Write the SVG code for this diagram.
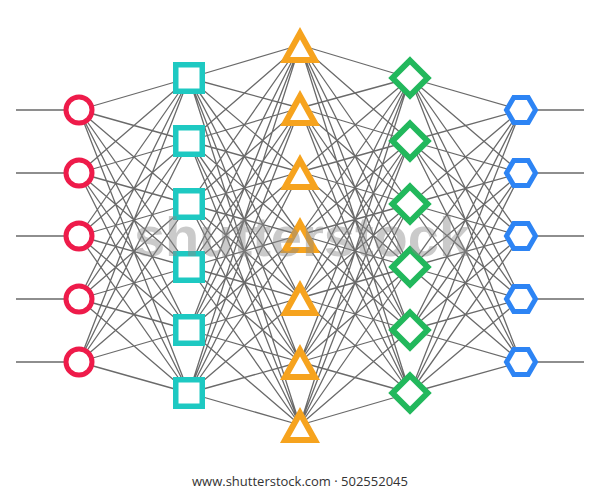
<svg xmlns="http://www.w3.org/2000/svg" xmlns:xlink="http://www.w3.org/1999/xlink" width="600" height="493" viewBox="0 0 600 493">
<style>
.ln{fill:none;stroke:#6a6a6a;stroke-width:1.3}
.cir{fill:#fff;stroke:#ee1b4a;stroke-width:5}
.sq{fill:#fff;stroke:#1ec9c2;stroke-width:5.5}
.tri{fill:#fff;stroke:#f6a31e;stroke-width:6;stroke-linejoin:miter}
.dia{fill:#fff;stroke:#22b85c;stroke-width:6}
.hex{fill:#fff;stroke:#2d84f4;stroke-width:5}
.wm{font-family:"Liberation Sans",Arial,sans-serif;font-weight:bold;font-size:56px;fill:#8a8a8a;fill-opacity:0.45}
.ft{font-family:"Open Sans","Liberation Sans",sans-serif;font-size:13px;fill:#333}
</style>
<defs>
<circle id="c" r="13"/>
<rect id="s" x="-13.25" y="-13.25" width="26.5" height="26.5"/>
<path id="t" d="M0 -11.8L14.9 15L-14.9 15Z"/>
<path id="d" d="M0 -17.5L17.5 0L0 17.5L-17.5 0Z"/>
<path id="h" d="M14.5 0L7.25 12.56L-7.25 12.56L-14.5 0L-7.25 -12.56L7.25 -12.56Z"/>
</defs>
<rect width="600" height="493" fill="#fff"/>
<g id="connectors" class="ln">
<path d="M16 110H66M16 173H66M16 236H66M16 299H66M16 362H66"/>
<path d="M535 110H584M535 173H584M535 236H584M535 299H584M535 362H584"/>
<path d="M79 110L189 78M79 110L189 141M79 110L189 204M79 110L189 267M79 110L189 330M79 110L189 393M79 173L189 78M79 173L189 141M79 173L189 204M79 173L189 267M79 173L189 330M79 173L189 393M79 236L189 78M79 236L189 141M79 236L189 204M79 236L189 267M79 236L189 330M79 236L189 393M79 299L189 78M79 299L189 141M79 299L189 204M79 299L189 267M79 299L189 330M79 299L189 393M79 362L189 78M79 362L189 141M79 362L189 204M79 362L189 267M79 362L189 330M79 362L189 393"/>
<path d="M189 78L300 45M189 78L300 108M189 78L300 172M189 78L300 235M189 78L300 298M189 78L300 362M189 78L300 425M189 141L300 45M189 141L300 108M189 141L300 172M189 141L300 235M189 141L300 298M189 141L300 362M189 141L300 425M189 204L300 45M189 204L300 108M189 204L300 172M189 204L300 235M189 204L300 298M189 204L300 362M189 204L300 425M189 267L300 45M189 267L300 108M189 267L300 172M189 267L300 235M189 267L300 298M189 267L300 362M189 267L300 425M189 330L300 45M189 330L300 108M189 330L300 172M189 330L300 235M189 330L300 298M189 330L300 362M189 330L300 425M189 393L300 45M189 393L300 108M189 393L300 172M189 393L300 235M189 393L300 298M189 393L300 362M189 393L300 425"/>
<path d="M300 45L410 78M300 45L410 141M300 45L410 204M300 45L410 267M300 45L410 330M300 45L410 393M300 108L410 78M300 108L410 141M300 108L410 204M300 108L410 267M300 108L410 330M300 108L410 393M300 172L410 78M300 172L410 141M300 172L410 204M300 172L410 267M300 172L410 330M300 172L410 393M300 235L410 78M300 235L410 141M300 235L410 204M300 235L410 267M300 235L410 330M300 235L410 393M300 298L410 78M300 298L410 141M300 298L410 204M300 298L410 267M300 298L410 330M300 298L410 393M300 362L410 78M300 362L410 141M300 362L410 204M300 362L410 267M300 362L410 330M300 362L410 393M300 425L410 78M300 425L410 141M300 425L410 204M300 425L410 267M300 425L410 330M300 425L410 393"/>
<path d="M410 78L521 110M410 78L521 173M410 78L521 236M410 78L521 299M410 78L521 362M410 141L521 110M410 141L521 173M410 141L521 236M410 141L521 299M410 141L521 362M410 204L521 110M410 204L521 173M410 204L521 236M410 204L521 299M410 204L521 362M410 267L521 110M410 267L521 173M410 267L521 236M410 267L521 299M410 267L521 362M410 330L521 110M410 330L521 173M410 330L521 236M410 330L521 299M410 330L521 362M410 393L521 110M410 393L521 173M410 393L521 236M410 393L521 299M410 393L521 362"/>
</g>
<g id="c1" transform="translate(79,110)"><use xlink:href="#c" class="cir"/></g>
<g id="c2" transform="translate(79,173)"><use xlink:href="#c" class="cir"/></g>
<g id="c3" transform="translate(79,236)"><use xlink:href="#c" class="cir"/></g>
<g id="c4" transform="translate(79,299)"><use xlink:href="#c" class="cir"/></g>
<g id="c5" transform="translate(79,362)"><use xlink:href="#c" class="cir"/></g>
<g id="s1" transform="translate(189,78)"><use xlink:href="#s" class="sq"/></g>
<g id="s2" transform="translate(189,141)"><use xlink:href="#s" class="sq"/></g>
<g id="s3" transform="translate(189,204)"><use xlink:href="#s" class="sq"/></g>
<g id="s4" transform="translate(189,267)"><use xlink:href="#s" class="sq"/></g>
<g id="s5" transform="translate(189,330)"><use xlink:href="#s" class="sq"/></g>
<g id="s6" transform="translate(189,393)"><use xlink:href="#s" class="sq"/></g>
<g id="t1" transform="translate(300,45)"><use xlink:href="#t" class="tri"/></g>
<g id="t2" transform="translate(300,108)"><use xlink:href="#t" class="tri"/></g>
<g id="t3" transform="translate(300,172)"><use xlink:href="#t" class="tri"/></g>
<g id="t4" transform="translate(300,235)"><use xlink:href="#t" class="tri"/></g>
<g id="t5" transform="translate(300,298)"><use xlink:href="#t" class="tri"/></g>
<g id="t6" transform="translate(300,362)"><use xlink:href="#t" class="tri"/></g>
<g id="t7" transform="translate(300,425)"><use xlink:href="#t" class="tri"/></g>
<g id="d1" transform="translate(410,78)"><use xlink:href="#d" class="dia"/></g>
<g id="d2" transform="translate(410,141)"><use xlink:href="#d" class="dia"/></g>
<g id="d3" transform="translate(410,204)"><use xlink:href="#d" class="dia"/></g>
<g id="d4" transform="translate(410,267)"><use xlink:href="#d" class="dia"/></g>
<g id="d5" transform="translate(410,330)"><use xlink:href="#d" class="dia"/></g>
<g id="d6" transform="translate(410,393)"><use xlink:href="#d" class="dia"/></g>
<g id="h1" transform="translate(521,110)"><use xlink:href="#h" class="hex"/></g>
<g id="h2" transform="translate(521,173)"><use xlink:href="#h" class="hex"/></g>
<g id="h3" transform="translate(521,236)"><use xlink:href="#h" class="hex"/></g>
<g id="h4" transform="translate(521,299)"><use xlink:href="#h" class="hex"/></g>
<g id="h5" transform="translate(521,362)"><use xlink:href="#h" class="hex"/></g>
<text class="wm" x="302" y="256" text-anchor="middle">shutterstock</text>
<text class="ft" x="300" y="486" text-anchor="middle">www.shutterstock.com · 502552045</text>
</svg>
